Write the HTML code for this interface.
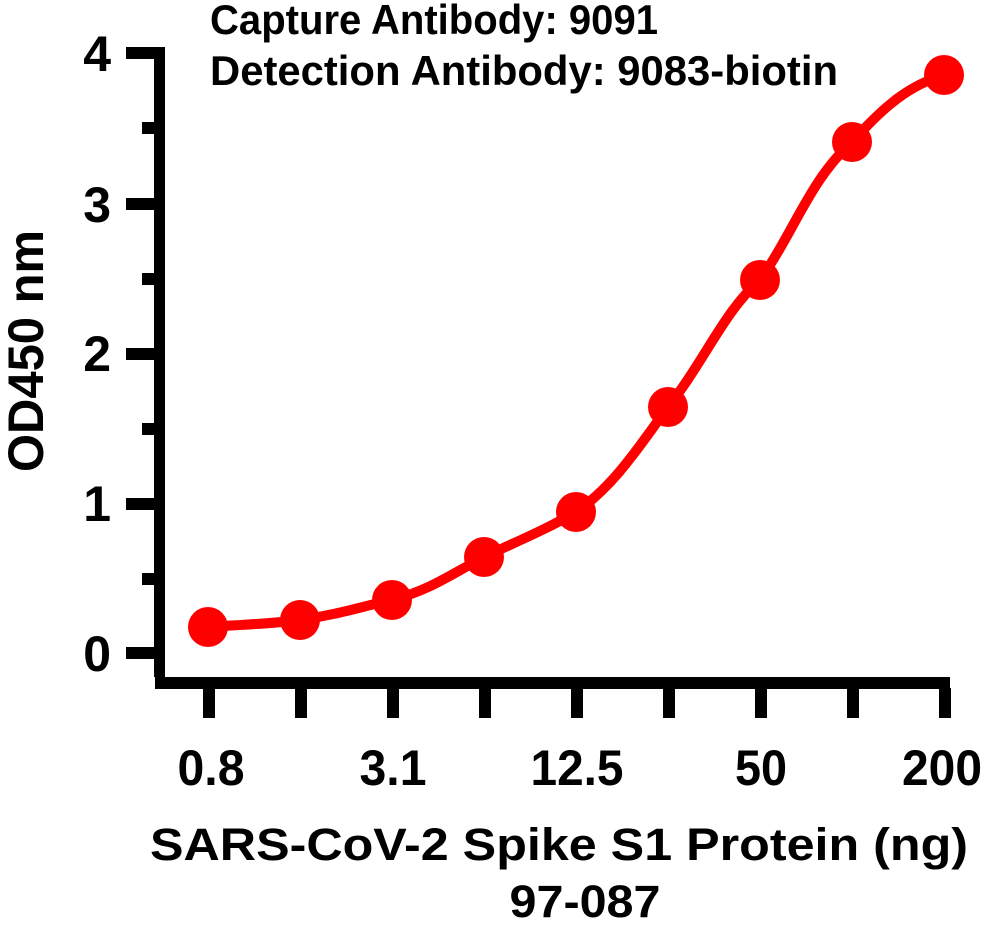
<!DOCTYPE html>
<html><head><style>html,body{margin:0;padding:0;background:#fff}svg{display:block}</style></head>
<body>
<svg width="983" height="938" viewBox="0 0 983 938" xmlns="http://www.w3.org/2000/svg" font-family="'Liberation Sans', Arial, sans-serif" font-weight="bold">
<rect width="983" height="938" fill="#fff"/>
<text x="210" y="34" font-size="42" textLength="448" lengthAdjust="spacingAndGlyphs">Capture Antibody: 9091</text>
<text x="210" y="85" font-size="42" textLength="628" lengthAdjust="spacingAndGlyphs">Detection Antibody: 9083-biotin</text>
<g fill="#000">
<rect x="154" y="47" width="11" height="630"/>
<rect x="155" y="677" width="795" height="12"/>
<rect x="126" y="47" width="30" height="12"/>
<rect x="126" y="198" width="30" height="12"/>
<rect x="126" y="348" width="30" height="12"/>
<rect x="126" y="498" width="30" height="12"/>
<rect x="126" y="647" width="30" height="12"/>
<rect x="142" y="122" width="14" height="12"/>
<rect x="142" y="273" width="14" height="12"/>
<rect x="142" y="423" width="14" height="12"/>
<rect x="142" y="573" width="14" height="12"/>
<rect x="203" y="688" width="12" height="30"/>
<rect x="295" y="688" width="12" height="30"/>
<rect x="387" y="688" width="12" height="30"/>
<rect x="479" y="688" width="12" height="30"/>
<rect x="571" y="688" width="12" height="30"/>
<rect x="663" y="688" width="12" height="30"/>
<rect x="755" y="688" width="12" height="30"/>
<rect x="847" y="688" width="12" height="30"/>
<rect x="939" y="688" width="12" height="30"/>
</g>
<g font-size="50" text-anchor="end">
<text x="111" y="71">4</text>
<text x="111" y="222">3</text>
<text x="111" y="371">2</text>
<text x="111" y="521">1</text>
<text x="111" y="671">0</text>
</g>
<g font-size="50" text-anchor="middle">
<text x="211" y="785" textLength="67" lengthAdjust="spacingAndGlyphs">0.8</text>
<text x="393" y="785" textLength="67" lengthAdjust="spacingAndGlyphs">3.1</text>
<text x="577" y="785" textLength="93" lengthAdjust="spacingAndGlyphs">12.5</text>
<text x="761" y="785" textLength="52" lengthAdjust="spacingAndGlyphs">50</text>
<text x="942" y="785" textLength="80" lengthAdjust="spacingAndGlyphs">200</text>
</g>
<text x="559" y="860" font-size="45" text-anchor="middle" textLength="818" lengthAdjust="spacingAndGlyphs">SARS-CoV-2 Spike S1 Protein (ng)</text>
<text x="585" y="917" font-size="45" text-anchor="middle" textLength="151" lengthAdjust="spacingAndGlyphs">97-087</text>
<text transform="translate(43,351) rotate(-90)" font-size="50" text-anchor="middle" textLength="242" lengthAdjust="spacingAndGlyphs">OD450 nm</text>
<path d="M208,627 C250,624 270,624 300,620 C340,614 360,607 392,600 C430,590 450,575 484,557 C520,540 545,530 576,512 C615,485 640,445 668,407 C705,360 725,310 760,280 C795,230 810,180 852,142 C885,105 910,85 944,75" fill="none" stroke="#ff0000" stroke-width="10" stroke-linecap="round"/>
<g fill="#ff0000">
<circle cx="208" cy="627" r="20"/>
<circle cx="300" cy="620" r="20"/>
<circle cx="392" cy="600" r="20"/>
<circle cx="484" cy="557" r="20"/>
<circle cx="576" cy="512" r="20"/>
<circle cx="668" cy="407" r="20"/>
<circle cx="760" cy="280" r="20"/>
<circle cx="852" cy="142" r="20"/>
<circle cx="944" cy="75" r="20"/>
</g>
</svg>
</body></html>
